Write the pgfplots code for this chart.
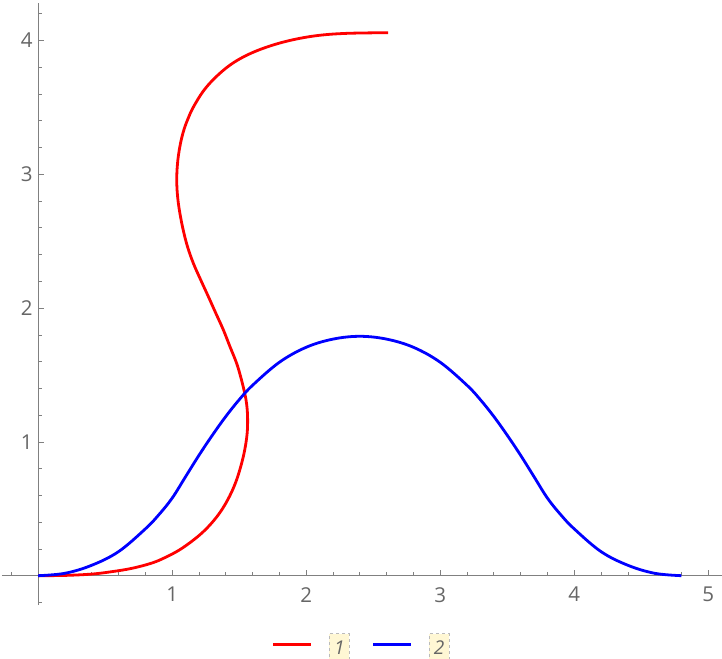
\documentclass[border=0pt]{standalone}
\usepackage{fontspec}
\setmainfont{Open Sans}
\usepackage{pgfplots}
\pgfplotsset{compat=1.18}
\definecolor{axgray}{HTML}{808080}
\definecolor{lblgray}{HTML}{666666}
\definecolor{legfill}{HTML}{FFF7D4}
\definecolor{legdraw}{HTML}{BBBBBB}
\begin{document}
\begin{tikzpicture}
\begin{axis}[
  x=134pt, y=133.8pt,
  xmin=-0.27, xmax=5.1, ymin=-0.22, ymax=4.28,
  axis lines=middle,
  axis line style={axgray, line width=0.8pt, -},
  xtick={1,2,3,4,5}, ytick={1,2,3,4},
  minor xtick={-0.2,0,...,5}, minor ytick={-0.2,0,...,4.2},
  tick align=inside,
  major tick length=6pt, minor tick length=3.5pt,
  tick style={axgray, line width=0.6pt},
  ticklabel style={font=\fontsize{20.5}{22}\selectfont, text=lblgray},
  xticklabel style={yshift=-8pt},
  yticklabel style={xshift=-2pt},
  /pgf/number format/assume math mode=true,
  clip=false,
  legend style={at={(axis description cs:0.5,0)}, anchor=north, yshift=-26pt,
    draw=none, fill=none, inner sep=0pt, legend columns=-1,
    /tikz/every even column/.append style={column sep=20pt},
    /tikz/every odd column/.append style={column sep=14pt}},
  legend image code/.code={\draw[#1] (0pt,0pt) -- (38pt,0pt);},
]
\addplot[red, line width=2.8pt, smooth, tension=0.6] coordinates {
(0,0) (0.2,0.002) (0.4,0.012) (0.55,0.03) (0.7,0.055) (0.85,0.095) (0.95,0.137)
(1.05,0.19) (1.145,0.256) (1.225,0.322) (1.295,0.394) (1.355,0.47) (1.405,0.55)
(1.448,0.635) (1.482,0.72) (1.51,0.81) (1.533,0.9) (1.55,0.99) (1.56,1.07)
(1.563,1.15) (1.56,1.24) (1.55,1.32) (1.533,1.40) (1.51,1.49)
(1.48,1.59) (1.43,1.715) (1.381,1.839) (1.325,1.963) (1.269,2.088) (1.213,2.21)
(1.157,2.337) (1.114,2.46) (1.083,2.58) (1.059,2.70) (1.044,2.80) (1.036,2.89)
(1.034,2.97) (1.038,3.06) (1.048,3.15) (1.066,3.25) (1.09,3.34) (1.12,3.42)
(1.157,3.50) (1.231,3.62) (1.319,3.72) (1.43,3.815) (1.555,3.889) (1.704,3.95)
(1.878,4.0) (2.078,4.036) (2.30,4.053) (2.612,4.058)
};
\addlegendentry{\tikz[baseline=(n.base)]\node[fill=legfill,draw=legdraw,dashed,line width=1pt,inner sep=0pt,minimum width=20pt,minimum height=30pt,text=lblgray,font=\fontsize{19}{20}\selectfont\itshape](n){1};}
\addplot[blue, line width=2.8pt, smooth, tension=0.6] coordinates {
(0,0) (0.2,0.018) (0.4,0.078) (0.6,0.18) (0.8,0.35) (0.9,0.455) (1.0,0.58)
(1.1,0.74) (1.2,0.9) (1.3,1.05) (1.4,1.19) (1.5,1.315) (1.6,1.423)
(1.8,1.595) (2.0,1.707) (2.2,1.768) (2.4,1.789)
(2.6,1.768) (2.8,1.707) (3.0,1.595) (3.2,1.423) (3.3,1.315) (3.4,1.19)
(3.5,1.05) (3.6,0.9) (3.7,0.74) (3.8,0.58) (3.9,0.455) (4.0,0.35)
(4.2,0.18) (4.4,0.078) (4.6,0.018) (4.8,0)
};
\addlegendentry{\tikz[baseline=(n.base)]\node[fill=legfill,draw=legdraw,dashed,line width=1pt,inner sep=0pt,minimum width=20pt,minimum height=30pt,text=lblgray,font=\fontsize{19}{20}\selectfont\itshape](n){2};}
\path (rel axis cs:0,1) ++(-2pt,3pt);
\path (rel axis cs:0,0) ++(0,-69pt);
\end{axis}
\end{tikzpicture}
\end{document}
